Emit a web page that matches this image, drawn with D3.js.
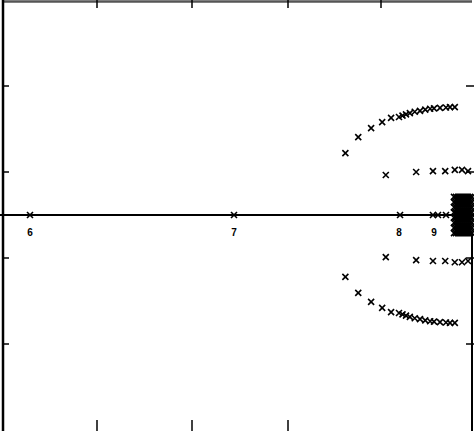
<!DOCTYPE html><html><head><script src="https://cdn.jsdelivr.net/npm/d3@7"></script>
<style>body{margin:0;background:#fff}</style></head><body><svg id="c" width="474" height="431"></svg>
<script>
const xTicks=[6,7,8,9];
const axisPts=[6,7,8.03,8.97,9.1,9.3];
const outerX=[7.675,7.753,7.831,7.898,7.952,8.0,8.1,8.2,8.31,8.45,8.6,8.75,8.89,9.0,9.15,9.3,9.4,9.52];
const outerY=[1.44,1.81,2.02,2.16,2.26,2.28,2.31,2.34,2.37,2.4,2.42,2.45,2.47,2.48,2.49,2.5,2.51,2.51];
const innerX=[7.92,8.49,8.97,9.28,9.52,9.7,9.85];
const innerY=[0.93,1.0,1.02,1.02,1.05,1.05,1.02];
const clusterX=[9.5,9.55,9.6,9.65,9.7,9.75,9.8,9.85,9.9,9.95];
const clusterY=[-0.42,-0.3,-0.18,-0.06,0.06,0.18,0.3,0.42];
const x=d3.scaleLinear().domain([5.87,6,7,8,9,10]).range([3,30,234,399,434,474]);
const y=d3.scaleLinear().domain([-5,0,5]).range([430,215,0]);
const svg=d3.select("#c");
const g=svg.append("g").attr("stroke","#000");
g.append("line").attr("x1",3).attr("x2",472).attr("y1",1.5).attr("y2",1.5).attr("stroke-width",2.5).attr("stroke","#555");
g.append("line").attr("x1",3).attr("x2",3).attr("y1",0).attr("y2",431).attr("stroke-width",2.5);
g.append("line").attr("x1",472).attr("x2",472).attr("y1",232).attr("y2",431).attr("stroke-width",2);
g.append("line").attr("x1",0).attr("x2",474).attr("y1",y(0)).attr("y2",y(0)).attr("stroke-width",2);
[97,192,288,381].forEach(px=>{g.append("line").attr("x1",px).attr("x2",px).attr("y1",0).attr("y2",8).attr("stroke-width",1.5);});
[97,192,288].forEach(px=>{g.append("line").attr("x1",px).attr("x2",px).attr("y1",420).attr("y2",431).attr("stroke-width",1.5);});
[3,1,-1,-3].forEach(v=>{g.append("line").attr("x1",3).attr("x2",9).attr("y1",y(v)).attr("y2",y(v)).attr("stroke-width",1.5);
 g.append("line").attr("x1",466).attr("x2",474).attr("y1",y(v)).attr("y2",y(v)).attr("stroke-width",1.5);});
svg.selectAll("text.t").data(xTicks).join("text").attr("x",d=>x(d)).attr("y",236).attr("text-anchor","middle")
 .attr("font-family","Liberation Sans").attr("font-weight","bold").attr("font-size",10).text(d=>d);
const pts=[];
axisPts.forEach(v=>pts.push([v,0]));
outerX.forEach((v,i)=>{pts.push([v,outerY[i]]);pts.push([v,-outerY[i]]);});
innerX.forEach((v,i)=>{pts.push([v,innerY[i]]);pts.push([v,-innerY[i]-0.05]);});
clusterX.forEach(a=>clusterY.forEach(b=>pts.push([a,b])));
const s=3;
svg.append("g").attr("stroke","#000").attr("stroke-width",1.6).selectAll("path").data(pts).join("path")
 .attr("d",d=>{const cx=x(d[0]),cy=y(d[1]);return `M${cx-s},${cy-s}L${cx+s},${cy+s}M${cx-s},${cy+s}L${cx+s},${cy-s}`;});
</script></body></html>
